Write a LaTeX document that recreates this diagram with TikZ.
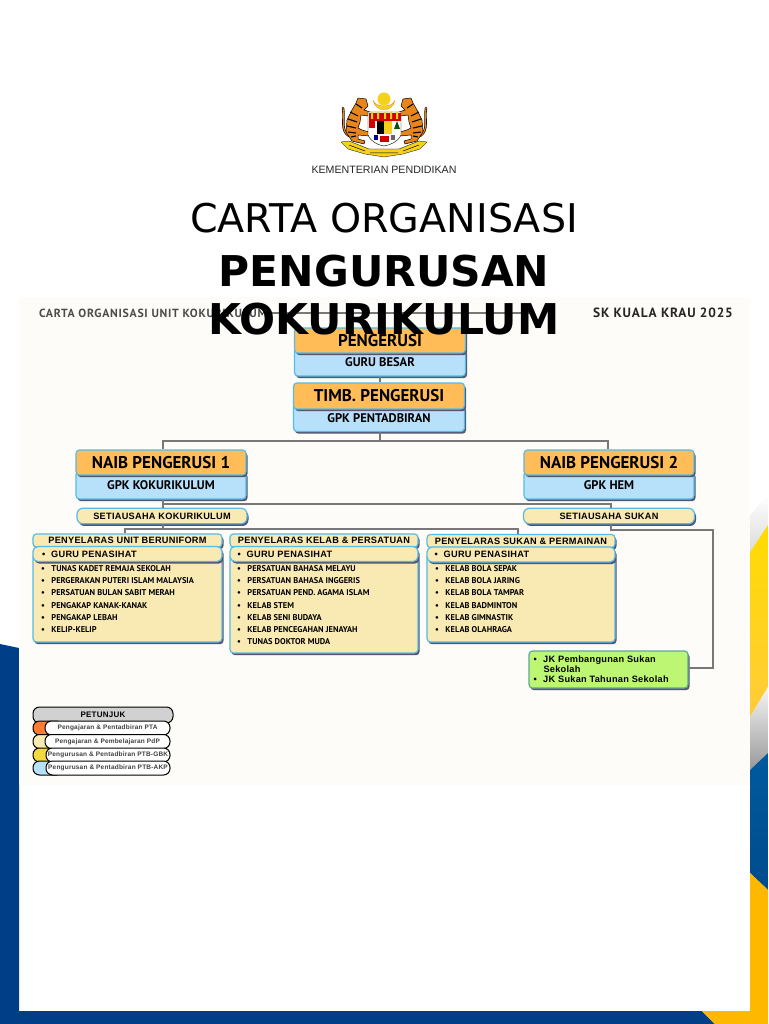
\documentclass[tikz,border=0pt]{standalone}
\usepackage{fontspec}
\setmainfont{Liberation Sans}
\newfontfamily\djv{DejaVu Sans}
\newfontfamily\ptb{PT Sans}[BoldFont={PT Sans Bold}]
\newfontfamily\ptw{PT Sans}[BoldFont={PT Sans Bold},LetterSpace=6]
\newfontfamily\lsw{Liberation Sans}[LetterSpace=3]
\usetikzlibrary{shadows}
\definecolor{panel}{HTML}{FDFCF8}
\definecolor{bdr}{HTML}{55BBE8}
\definecolor{orng}{HTML}{FFBC57}
\definecolor{skyb}{HTML}{B7E0FA}
\definecolor{crm}{HTML}{F9E9B2}
\definecolor{shd}{HTML}{54546C}
\definecolor{grn}{HTML}{BCF672}
\definecolor{grnb}{HTML}{5FA79A}
\definecolor{conn}{HTML}{787878}
\definecolor{navy}{HTML}{003F88}
\definecolor{golda}{HTML}{FFDC00}
\definecolor{goldb}{HTML}{FFCB3A}
\definecolor{goldc}{HTML}{FFB800}
\definecolor{bluea}{HTML}{005A9E}
\definecolor{blueb}{HTML}{004C8C}
\definecolor{crestor}{HTML}{E8861C}
\definecolor{crestye}{HTML}{F5D21A}
\tikzset{
 wh/.style n args={4}{minimum width=#1pt,minimum height=#2pt,at={(#3,#4)}},
 boxbase/.style={draw=bdr,line width=1.2pt,rounded corners=3.5pt,inner sep=0pt,anchor=center,
   drop shadow={shadow xshift=1.5pt,shadow yshift=-2.2pt,fill=shd,opacity=1}},
 orangebox/.style={boxbase,fill=orng,text=black,font=\ptb\bfseries\fontsize{17}{18}\selectfont},
 bluebox/.style={boxbase,fill=skyb,text=black,font=\ptb\bfseries\fontsize{12.5}{13}\selectfont},
 creambox/.style={boxbase,fill=crm,text=black,font=\lsw\bfseries\fontsize{9.2}{10}\selectfont},
 listbox/.style={boxbase,fill=crm},
 listtext/.style={inner sep=0pt,anchor=north west,align=left,font=\ptb\bfseries\fontsize{8.4}{12.1}\selectfont},
 greenbox/.style={boxbase,fill=grn,draw=grnb},
 link/.style={draw=conn,line width=1.05pt},
 legendpill/.style={draw=black,line width=1pt,rounded corners=6.5pt,inner sep=0pt},
 legendtext/.style={legendpill,fill=white,font=\lsw\bfseries\fontsize{6.5}{7}\selectfont,text=black!75},
 tigerfill/.style={fill=crestor,draw=black,line width=0.5pt},
}
\newcommand{\tigershape}{%
 \draw[black,line width=2.4pt,line cap=round] (349,136) .. controls (340,130) and (345,120) .. (343,108);
 \draw[crestor,line width=1.1pt,line cap=round] (349,136) .. controls (340,130) and (345,120) .. (343,108);
 \path[tigerfill] (358,98) -- (366,99) -- (368,106) -- (364,110) -- (370,112) -- (368,116) -- (361,115) -- (360,122) -- (358,128) -- (362,130) -- (369,132) -- (369,136) -- (358,135) -- (358,139) -- (365,141) -- (364,144) -- (352,141) -- (346,132) -- (347,120) -- (352,110) -- (356,103) -- cycle;
 \draw[black,line width=1.1pt] (350,112) -- (358,116) (348,119) -- (357,122) (347,126) -- (356,128) (348,132) -- (356,133) (351,137) -- (356,136) (356,104) -- (362,108);
}
\begin{document}
\begin{tikzpicture}[x=1pt,y=-1pt]
\useasboundingbox (0,0) rectangle (768,1024);
\fill[white] (0,0) rectangle (768,1024);
% background
\fill[navy] (0,644) -- (19,648) -- (19,1011) -- (702,1011) -- (715,1024) -- (0,1024) -- cycle;
\shade[top color=white,bottom color=black!14] (750,515) -- (768,495) -- (768,525) -- (750,552) -- cycle;
\shade[top color=golda,bottom color=goldb] (750,552) -- (768,525) -- (768,687) -- (750,717) -- cycle;
\shade[top color=white!92!gray,bottom color=black!40] (750,717) -- (768,687) -- (768,753) -- (750,770) -- cycle;
\shade[top color=bluea,bottom color=blueb] (750,770) -- (768,753) -- (768,890) -- (750,873) -- cycle;
\fill[goldc] (750,873) -- (768,890) -- (768,1024) -- (715,1024) -- (702,1011) -- (750,1011) -- cycle;
\fill[panel] (19,297) rectangle (750,785);
% crest
\begin{scope}[line join=round]
 \fill[crestye] (384,99) circle (6.5);
 \fill[crestye,draw=crestor,line width=0.3pt] (373,100) .. controls (375,113) and (393,113) .. (395,100) .. controls (393,108) and (375,108) .. (373,100) -- cycle;
 \tigershape
 \begin{scope}[xshift=769pt,xscale=-1]
  \tigershape
 \end{scope}
 % shield
 \fill[white,draw=black,line width=0.4pt] (368,112) -- (401,112) -- (401,135) .. controls (398,142) and (390,145) .. (384,146) .. controls (378,145) and (371,142) .. (368,135) -- cycle;
 \fill[red!85!black] (368.5,113) rectangle (400.5,121);
 \fill[crestye] (371,112) rectangle (373,119) (377,112) rectangle (379,119) (384,112) rectangle (386,119) (390,112) rectangle (392,119) (396,112) rectangle (398,119);
 \fill[red!85!black] (369,121) rectangle (375,128);
 \fill[black] (377,121) rectangle (384,134);
 \fill[crestye] (384,121) rectangle (392,134);
 \fill[green!35!black] (394,129) -- (397,121) -- (400,129) -- cycle;
 \fill[red!80!black] (380,136) rectangle (389,142);
 \fill[blue!60!black] (374,135) rectangle (378,140);
 \fill[black!60] (391,135) rectangle (395,140);
 % ribbon
 \fill[crestye,draw=black,line width=0.3pt] (341,142) -- (349,141) -- (369,149) -- (399,149) -- (419,141) -- (427,142) -- (420,149) -- (403,154) -- (384,157) -- (365,154) -- (348,149) -- cycle;
 \draw[black,line width=0.5pt] (349,145) -- (365,151) (370,153) -- (398,153) (403,151) -- (419,145);
\end{scope}
% titles
\node[font=\fontsize{10.65}{12}\selectfont,text=black!85,inner sep=0pt] (ministry) at (384,169.5) {KEMENTERIAN PENDIDIKAN};
% chart heading
\node[font=\ptw\bfseries\fontsize{11.8}{12}\selectfont,text=black!70,anchor=west,inner sep=0pt] (charthead) at (39,313) {CARTA ORGANISASI UNIT KOKURIKULUM};
\node[font=\ptw\bfseries\fontsize{13.4}{13}\selectfont,text=black!85,anchor=west,inner sep=0pt] (school) at (593,312.5) {SK KUALA KRAU 2025};
% upper boxes
\node[bluebox,wh={171}{28}{380}{362}] (gb) {\raisebox{-1pt}{GURU BESAR}};
\node[orangebox,wh={171}{25}{380}{340.5}] (peng) {PENGERUSI};
\node[bluebox,wh={171}{27}{379}{418}] (gpkp) {\raisebox{-1pt}{GPK PENTADBIRAN}};
\node[orangebox,wh={171}{26}{379}{396}] (timb) {TIMB. PENGERUSI};
\node[bluebox,wh={170}{28}{161}{485}] (gpkk) {\raisebox{-1pt}{GPK KOKURIKULUM}};
\node[orangebox,wh={170}{25}{161}{462.5}] (naib1) {NAIB PENGERUSI 1};
\node[bluebox,wh={170}{28}{609}{485}] (gpkh) {\raisebox{-1pt}{GPK HEM}};
\node[orangebox,wh={170}{25}{609}{462.5}] (naib2) {NAIB PENGERUSI 2};
% secretaries
\node[creambox,rounded corners=6pt,wh={170}{15.5}{162}{516}] (sk) {SETIAUSAHA KOKURIKULUM};
\node[creambox,rounded corners=6pt,wh={171}{15.5}{609}{516}] (ss) {SETIAUSAHA SUKAN};
% coordinators
\node[listbox,wh={189}{88}{127.5}{598}] (l1) {};
\node[creambox,wh={189}{13}{127.5}{540.5}] (h1) {PENYELARAS UNIT BERUNIFORM};
\node[creambox,rounded corners=5pt,wh={189}{15}{127.5}{554}] (g1) {\makebox[181pt][l]{\hspace{5pt}•\hspace{6pt}GURU PENASIHAT}};
\node[listbox,wh={188}{99}{324}{603.5}] (l2) {};
\node[creambox,wh={188}{13}{324}{540.5}] (h2) {PENYELARAS KELAB \& PERSATUAN};
\node[creambox,rounded corners=5pt,wh={188}{15}{324}{554}] (g2) {\makebox[181pt][l]{\hspace{4pt}•\hspace{6pt}GURU PENASIHAT}};
\node[listbox,wh={188}{88}{521}{598}] (l3) {};
\node[creambox,wh={188}{13}{521}{541}] (h3) {PENYELARAS SUKAN \& PERMAINAN};
\node[creambox,rounded corners=5pt,wh={188}{15}{521}{554.5}] (g3) {\makebox[181pt][l]{\hspace{4pt}•\hspace{6pt}GURU PENASIHAT}};
\node[listtext] (t1) at (41,565.5) {•\hspace{6.5pt}TUNAS KADET REMAJA SEKOLAH\\•\hspace{6.5pt}PERGERAKAN PUTERI ISLAM MALAYSIA\\•\hspace{6.5pt}PERSATUAN BULAN SABIT MERAH\\•\hspace{6.5pt}PENGAKAP KANAK-KANAK\\•\hspace{6.5pt}PENGAKAP LEBAH\\•\hspace{6.5pt}KELIP-KELIP};
\node[listtext] (t2) at (237,565.5) {•\hspace{6.5pt}PERSATUAN BAHASA MELAYU\\•\hspace{6.5pt}PERSATUAN BAHASA INGGERIS\\•\hspace{6.5pt}PERSATUAN PEND. AGAMA ISLAM\\•\hspace{6.5pt}KELAB STEM\\•\hspace{6.5pt}KELAB SENI BUDAYA\\•\hspace{6.5pt}KELAB PENCEGAHAN JENAYAH\\•\hspace{6.5pt}TUNAS DOKTOR MUDA};
\node[listtext] (t3) at (435,565.5) {•\hspace{6.5pt}KELAB BOLA SEPAK\\•\hspace{6.5pt}KELAB BOLA JARING\\•\hspace{6.5pt}KELAB BOLA TAMPAR\\•\hspace{6.5pt}KELAB BADMINTON\\•\hspace{6.5pt}KELAB GIMNASTIK\\•\hspace{6.5pt}KELAB OLAHRAGA};
% green
\node[greenbox,wh={159}{37}{608.5}{669.5},font=\lsw\bfseries\fontsize{9.2}{10.2}\selectfont,align=left] (jk) {\makebox[150pt][l]{•\hspace{6.5pt}JK Pembangunan Sukan}\\\makebox[150pt][l]{\hspace{10pt}Sekolah}\\\makebox[150pt][l]{•\hspace{6.5pt}JK Sukan Tahunan Sekolah}};
% connectors
\coordinate (hl) at (270,313);
\coordinate (hr) at (535,313);
\coordinate (top) at (380,313);
\draw[link] (hl) -- (hr) (top) -- (peng.north);
\draw[link] (gb.south) -- (gb.south |- timb.north);
\coordinate (b1) at (380,441);
\coordinate (n1) at (163,441);
\coordinate (n2) at (608,441);
\draw[link] (b1 |- gpkp.south) -- (b1);
\draw[link] (n1 |- naib1.north) -- (n1) -- (n2) -- (n2 |- naib2.north);
\coordinate (b2) at (163,504);
\coordinate (b2r) at (611,504);
\draw[link] (b2 |- gpkk.south) -- (b2) -- (b2r) -- (b2r |- ss.north);
\draw[link] (b2) -- (b2 |- sk.north);
\coordinate (b3) at (125,529);
\coordinate (b3m) at (163,529);
\coordinate (b3r) at (518,529);
\draw[link] (b3m |- sk.south) -- (b3m);
\draw[link] (b3 |- h1.north) -- (b3) -- (b3r) -- (b3r |- h3.north);
\coordinate (c1) at (611,530);
\coordinate (c2) at (713,530);
\coordinate (c3) at (713,668);
\draw[link] (c1 |- ss.south) -- (c1) -- (c2) -- (c3) -- (jk.east |- c3);
% legend
\node[legendpill,fill=black!18,minimum width=140pt,minimum height=16pt,at={(103,715)},font=\lsw\bfseries\fontsize{8}{9}\selectfont] (pt) {PETUNJUK};
\node[legendpill,fill=orange!70!red!80,minimum width=30pt,minimum height=14pt,at={(48,728)}] (p1) {};
\node[legendpill,fill=crm,minimum width=30pt,minimum height=14pt,at={(48,741.5)}] (p2) {};
\node[legendpill,fill=crestye!85!white,minimum width=30pt,minimum height=14pt,at={(48,755)}] (p3) {};
\node[legendpill,fill=skyb,minimum width=30pt,minimum height=14pt,at={(48,768)}] (p4) {};
\node[legendtext,minimum width=125pt,minimum height=14pt,at={(107.5,728)}] (q1) {Pengajaran \& Pentadbiran PTA};
\node[legendtext,minimum width=125pt,minimum height=14pt,at={(107.5,741.5)}] (q2) {Pengajaran \& Pembelajaran PdP};
\node[legendtext,minimum width=124pt,minimum height=14pt,at={(108,755)}] (q3) {Pengurusan \& Pentadbiran PTB-GBK};
\node[legendtext,minimum width=124pt,minimum height=14pt,at={(108,768)}] (q4) {Pengurusan \& Pentadbiran PTB-AKP};
% slide title on top
\node[font=\djv\fontsize{39.6}{44}\selectfont,inner sep=0pt] (title1) at (384,218) {CARTA ORGANISASI};
\node[font=\djv\bfseries\fontsize{42.4}{46}\selectfont,inner sep=0pt] (title2) at (384,271) {PENGURUSAN};
\node[font=\djv\bfseries\fontsize{42.4}{46}\selectfont,inner sep=0pt] (title3) at (384,319) {KOKURIKULUM};
\end{tikzpicture}
\end{document}
